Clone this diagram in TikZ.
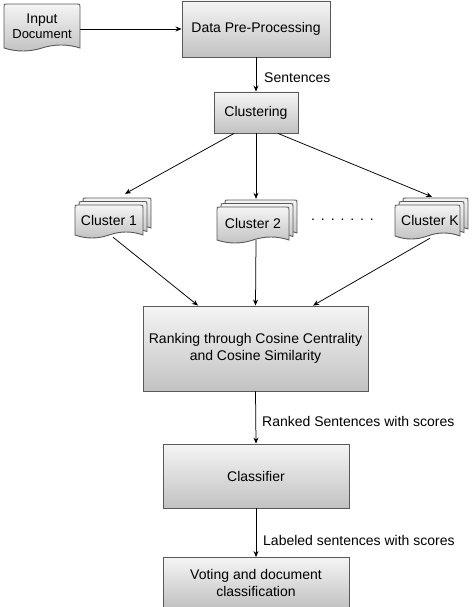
\documentclass[tikz,border=0pt]{standalone}
\usepackage{fontspec}
\setmainfont{Liberation Sans}
\usetikzlibrary{arrows.meta}
\newcommand\docshape[5]{%
 \pgfmathsetmacro\docA{#1}\pgfmathsetmacro\docB{#2}\pgfmathsetmacro\docC{#3}\pgfmathsetmacro\docD{#4}\pgfmathsetmacro\docE{#5}%
 \pgfmathsetmacro\docW{(\docC-\docA)/6}\pgfmathsetmacro\docM{(\docA+\docC)/2}%
 \pgfmathsetmacro\docU{\docD-4/3*\docE}\pgfmathsetmacro\docL{\docD+4/3*\docE}%
 \path[docsty] (\docA,\docD) -- (\docA,\docB+3) .. controls (\docA,\docB) .. (\docA+3,\docB)
   -- (\docC-3,\docB) .. controls (\docC,\docB) .. (\docC,\docB+3) -- (\docC,\docD)
   .. controls (\docC-\docW,\docU) and (\docM+\docW,\docU) .. (\docM,\docD)
   .. controls (\docM-\docW,\docL) and (\docA+\docW,\docL) .. (\docA,\docD) -- cycle;}
\newcommand\stackdoc[4]{%
 \docshape{#1+8}{#2-7}{#3+8}{#4-7}{3}%
 \docshape{#1+4}{#2-3.5}{#3+4}{#4-3.5}{3}%
 \docshape{#1}{#2}{#3}{#4}{3}}
\begin{document}
\begin{tikzpicture}[x=1pt,y=-1pt,
  docsty/.style={draw=black!65,line width=0.9pt,top color=black!4,bottom color=black!24},
  procbox/.style={draw=black!65,line width=0.9pt,top color=black!4,bottom color=black!24,
     inner sep=0pt,align=center,font=\fontsize{14}{17}\selectfont},
  plain/.style={inner sep=0pt,align=center,font=\fontsize{14}{17}\selectfont},
  lbl/.style={inner sep=0pt,anchor=west,font=\fontsize{14}{17}\selectfont},
  arr/.style={draw=black,line width=0.75pt,-{Stealth[length=6pt,width=5pt]}}]
\useasboundingbox (0,0) rectangle (474,607);
% document shapes
\docshape{4}{4}{80}{48}{3}
\stackdoc{75}{205}{143}{235}
\stackdoc{217}{207}{289}{240}
\stackdoc{395}{205}{460}{236}
% nodes
\node[plain,minimum width=76pt,minimum height=44pt] (in) at (42,26)
  {Input\\[-2pt]{\fontsize{13}{15}\selectfont Document}};
\node[procbox,minimum width=148pt,minimum height=56pt] (dp) at (256,29) {Data Pre-Processing};
\node[procbox,minimum width=84pt,minimum height=41pt] (cl) at (256,112.5) {Clustering};
\node[plain,minimum width=68pt,minimum height=30pt] (c1) at (109,220) {Cluster 1};
\node[plain,minimum width=72pt,minimum height=33pt] (c2) at (253,223.5) {Cluster 2};
\node[plain,minimum width=65pt,minimum height=31pt] (ck) at (430,220.5) {Cluster K};
\node[plain] (dots) at (342.5,220) {.\hspace{5.9pt}.\hspace{5.9pt}.\hspace{5.9pt}.\hspace{5.9pt}.\hspace{5.9pt}.\hspace{5.9pt}.};
\node[procbox,minimum width=225pt,minimum height=85pt] (rk) at (255.5,348.5)
  {Ranking through Cosine Centrality\\and Cosine Similarity};
\node[procbox,minimum width=186pt,minimum height=64pt] (cf) at (256,476) {Classifier};
\node[procbox,minimum width=186pt,minimum height=50pt] (vt) at (256,582.5)
  {Voting and document\\classification};
% labels
\node[lbl] (l1) at (264,78) {Sentences};
\node[lbl] (l2) at (262,421) {Ranked Sentences with scores};
\node[lbl] (l3) at (263,540) {Labeled sentences with scores};
% connectors
\draw[arr] (in.east |- dp.west) -- (dp.west);
\draw[arr] (dp.south) -- (cl.north);
\draw[arr] ([shift={(-22,0)}]cl.south) -- ([shift={(16,-11)}]c1.north);
\draw[arr] (cl.south) -- ([shift={(3,-8)}]c2.north);
\draw[arr] ([shift={(22,0)}]cl.south) -- ([shift={(2,-8)}]ck.north);
\draw[arr] ([shift={(4,2)}]c1.south) -- ([shift={(-57.5,0)}]rk.north);
\draw[arr] (cl.south |- c2.south) -- (rk.north);
\draw[arr] ([shift={(0,2)}]ck.south) -- ([shift={(57.5,0)}]rk.north);
\draw[arr] (rk.south) -- (cf.north);
\draw[arr] (cf.south) -- (vt.north);
\end{tikzpicture}
\end{document}
